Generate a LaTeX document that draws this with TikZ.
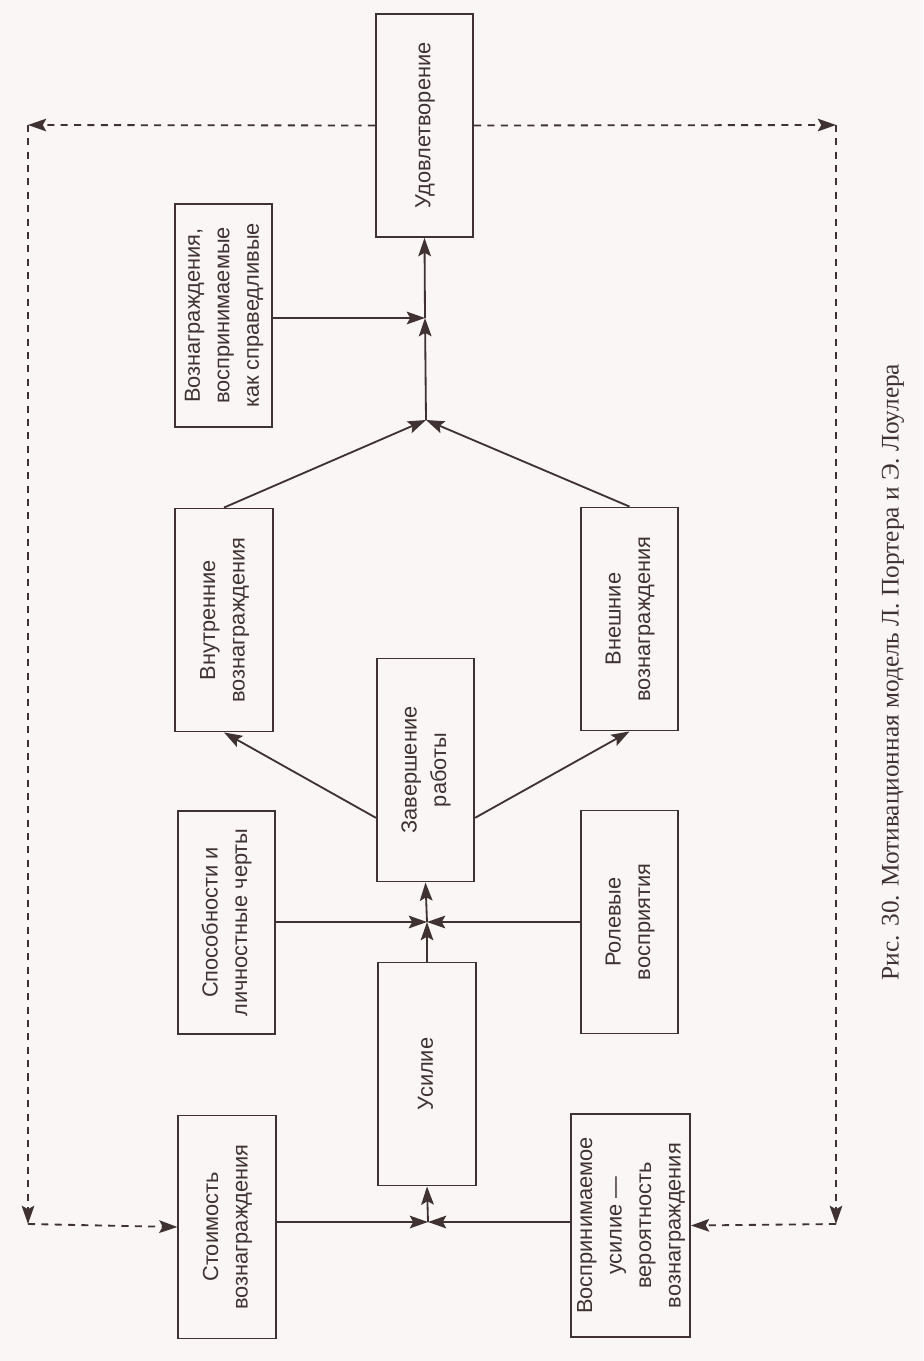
\documentclass[tikz,border=0pt]{standalone}
\usepackage{fontspec,graphicx}
\setmainfont{Liberation Sans}
\newfontfamily\capfont{Liberation Serif}
\usetikzlibrary{arrows.meta}
\definecolor{ink}{RGB}{64,50,50}
\definecolor{paper}{RGB}{249,246,245}
\newcommand{\vtext}[1]{\rotatebox{90}{\begin{tabular}{@{}c@{}}#1\end{tabular}}}
\tikzset{
  box/.style={draw=ink, line width=1.3pt, minimum width=2.43cm, minimum height=5.575cm, inner sep=0pt, text=ink},
  arr/.style={draw=ink, line width=1.3pt, -{Stealth[length=13pt,width=9pt,inset=2.5pt]}},
  darr/.style={arr, dash pattern=on 5pt off 4.5pt}
}

\begin{document}
\begin{tikzpicture}[x=0.025cm, y=-0.025cm, font=\fontsize{15.5}{21}\selectfont]
            \fill[paper] (0,0) rectangle (923,1361);
            \useasboundingbox (0,0) rectangle (923,1361);
            % boxes
            \node[box] (sat) at (424.5,125.5) {\vtext{Удовлетворение}};
            \node[box] (fair) at (223.5,315.5) {\vtext{Вознаграждения,\\ воспринимаемые\\ как справедливые}};
            \node[box] (intr) at (224,620) {\vtext{Внутренние\\ вознаграждения}};
            \node[box] (extr) at (629.5,619) {\vtext{Внешние\\ вознаграждения}};
            \node[box] (done) at (425.5,770) {\vtext{Завершение\\ работы}};
            \node[box] (abil) at (226.5,922.5) {\vtext{Способности и\\ личностные черты}};
            \node[box] (role) at (629.5,922) {\vtext{Ролевые\\ восприятия}};
            \node[box] (eff) at (427,1074) {\vtext{Усилие}};
            \node[box] (cost) at (227,1227) {\vtext{Стоимость\\ вознаграждения}};
            \node[box, minimum width=2.975cm] (perc) at (630.5,1225.5) {\vtext{Воспринимаемое\\ усилие ---\\ вероятность\\ вознаграждения}};
            \node[rotate=90, text=ink, font=\capfont\fontsize{18}{20}\selectfont] (cap) at (893,672) {Рис. 30. Мотивационная модель Л. Портера и Э. Лоулера};
            % junctions
            \coordinate (jb) at (428,1222);
            \coordinate (jm) at (427,922);
            \coordinate (jt) at (426,420);
            \coordinate (ju) at (425,318);
            \coordinate (cl) at (28,125);
            \coordinate (clb) at (28,1224);
            \coordinate (cr) at (836,125);
            \coordinate (crb) at (836,1224);
            % solid arrows
            \draw[arr] (cost.east |- jb)--(jb);
            \draw[arr] (perc.west |- jb)--(jb);
            \draw[arr] (jb)--(eff.south);
            \draw[arr] (abil.east |- jm)--(jm);
            \draw[arr] (role.west |- jm)--(jm);
            \draw[arr] (eff.north)--(jm);
            \draw[arr] (jm)--(done.south);
            \draw[arr] (done.224)--(intr.south);
            \draw[arr] (done.-44)--(extr.south);
            \draw[arr] (intr.north)--(jt);
            \draw[arr] (extr.north)--(jt);
            \draw[arr] (jt)--(ju);
            \draw[arr] (fair.east |- ju)--(ju);
            \draw[arr] (ju)--(sat.south);
            % dashed feedback
            \draw[darr] (sat.west)--(cl);
            \draw[darr] (cl)--(clb);
            \draw[darr] (clb)--(cost.west);
            \draw[darr] (sat.east)--(cr);
            \draw[darr] (cr)--(crb);
            \draw[darr] (crb)--(perc.east);
        \end{tikzpicture}
\end{document}
